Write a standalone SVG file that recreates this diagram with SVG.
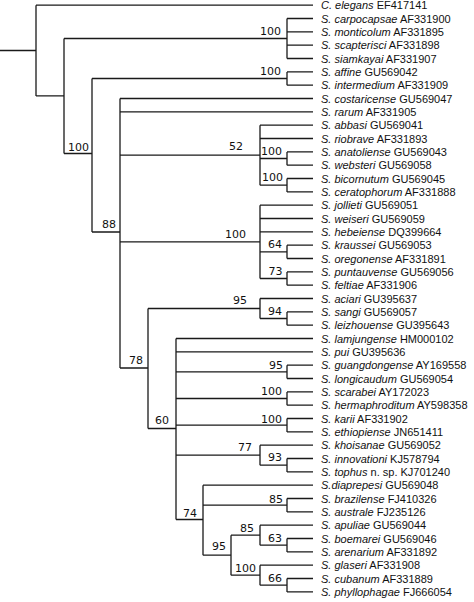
<svg xmlns="http://www.w3.org/2000/svg" width="474" height="602" viewBox="0 0 474 602">
<style>
.e{stroke:#1a1a1a;stroke-width:1.3;fill:none}
.t{font-family:"Liberation Sans",Arial,sans-serif;font-size:11px;fill:#111}
.i{font-style:italic}
.b{font-family:"DejaVu Sans",Verdana,sans-serif;font-size:11px;fill:#111;text-anchor:end}
</style>
<rect width="474" height="602" fill="#fff"/>
<g id="connectors" class="e">
<path d="M0,50.5H36M36,5.2V95.9M36,5.2H313M36,95.9H64"/>
<path d="M64,38.5V153.5M64,38.5H287M64,153.5H92"/>
<path d="M287,18.5V58.5M287,18.5H313M287,31.9H313M287,45.2H313M287,58.5H313"/>
<path d="M92,78.5V232M92,78.5H287M92,232H120"/>
<path d="M287,71.9V85.2M287,71.9H313M287,85.2H313"/>
<path d="M120,98.5V368M120,98.5H313M120,111.9H313M120,155.2H260M120,241.9H260M120,368H148"/>
<path d="M260,125.2V185.2M260,125.2H313M260,138.5H313M260,158.5H287M260,185.2H287"/>
<path d="M287,151.9V165.2M287,151.9H313M287,165.2H313"/>
<path d="M287,178.5V191.9M287,178.5H313M287,191.9H313"/>
<path d="M260,205.2V278.5M260,205.2H313M260,218.5H313M260,231.9H313M260,251.9H287M260,278.5H287"/>
<path d="M287,245.2V258.5M287,245.2H313M287,258.5H313"/>
<path d="M287,271.9V285.2M287,271.9H313M287,285.2H313"/>
<path d="M148,308.5V428.5M148,308.5H260M148,428.5H176"/>
<path d="M260,298.5V318.5M260,298.5H313M260,318.5H287"/>
<path d="M287,311.9V325.2M287,311.9H313M287,325.2H313"/>
<path d="M176,338.5V519.5M176,338.5H313M176,351.9H313M176,371.9H287M176,398.5H287M176,425.2H287M176,455.2H260M176,519.5H203"/>
<path d="M287,365.2V378.5M287,365.2H313M287,378.5H313"/>
<path d="M287,391.9V405.2M287,391.9H313M287,405.2H313"/>
<path d="M287,418.5V431.9M287,418.5H313M287,431.9H313"/>
<path d="M260,445.2V465.2M260,445.2H313M260,465.2H287"/>
<path d="M287,458.5V471.9M287,458.5H313M287,471.9H313"/>
<path d="M203,485.2V555.2M203,485.2H313M203,505.2H287M203,555.2H231"/>
<path d="M287,498.5V511.9M287,498.5H313M287,511.9H313"/>
<path d="M231,535.2V575.2M231,535.2H260M231,575.2H260"/>
<path d="M260,525.2V545.2M260,525.2H313M260,545.2H287"/>
<path d="M287,538.5V551.9M287,538.5H313M287,551.9H313"/>
<path d="M260,565.2V585.2M260,565.2H313M260,585.2H287"/>
<path d="M287,578.5V591.9M287,578.5H313M287,591.9H313"/>
</g>
<g id="support">
<g id="n-carpo"><text class="b" x="281" y="35">100</text></g>
<g id="n-affine"><text class="b" x="281" y="75">100</text></g>
<g id="n-B"><text class="b" x="89" y="150.5">100</text></g>
<g id="n-D"><text class="b" x="243" y="150">52</text></g>
<g id="n-anatol"><text class="b" x="282" y="155">100</text></g>
<g id="n-bicorn"><text class="b" x="283" y="181">100</text></g>
<g id="n-C"><text class="b" x="116" y="227.5">88</text></g>
<g id="n-E"><text class="b" x="246" y="237.5">100</text></g>
<g id="n-kraus"><text class="b" x="282" y="247.5">64</text></g>
<g id="n-puntau"><text class="b" x="282.5" y="275">73</text></g>
<g id="n-F"><text class="b" x="143" y="363.5">78</text></g>
<g id="n-G"><text class="b" x="247" y="304">95</text></g>
<g id="n-sangi"><text class="b" x="282" y="315">94</text></g>
<g id="n-H"><text class="b" x="169" y="423.5">60</text></g>
<g id="n-guang"><text class="b" x="283" y="368.5">95</text></g>
<g id="n-scarab"><text class="b" x="282" y="395">100</text></g>
<g id="n-karii"><text class="b" x="282" y="422.5">100</text></g>
<g id="n-khois"><text class="b" x="252" y="450.5">77</text></g>
<g id="n-innov"><text class="b" x="282" y="461">93</text></g>
<g id="n-I"><text class="b" x="197" y="516.5">74</text></g>
<g id="n-braz"><text class="b" x="283" y="502.5">85</text></g>
<g id="n-J"><text class="b" x="226" y="550">95</text></g>
<g id="n-K"><text class="b" x="254" y="531.5">85</text></g>
<g id="n-boem"><text class="b" x="282" y="541.5">63</text></g>
<g id="n-L"><text class="b" x="256" y="571.5">100</text></g>
<g id="n-cuban"><text class="b" x="282" y="581.5">66</text></g>
</g>
<g id="leaves" class="t">
<g id="l1"><text x="321" y="9.2"><tspan class="i">C. elegans</tspan> EF417141</text></g>
<g id="l2"><text x="321" y="22.5"><tspan class="i">S. carpocapsae</tspan> AF331900</text></g>
<g id="l3"><text x="321" y="35.9"><tspan class="i">S. monticolum</tspan> AF331895</text></g>
<g id="l4"><text x="321" y="49.2"><tspan class="i">S. scapterisci</tspan> AF331898</text></g>
<g id="l5"><text x="321" y="62.5"><tspan class="i">S. siamkayai</tspan> AF331907</text></g>
<g id="l6"><text x="321" y="75.9"><tspan class="i">S. affine</tspan> GU569042</text></g>
<g id="l7"><text x="321" y="89.2"><tspan class="i">S. intermedium</tspan> AF331909</text></g>
<g id="l8"><text x="321" y="102.5"><tspan class="i">S. costaricense</tspan> GU569047</text></g>
<g id="l9"><text x="321" y="115.9"><tspan class="i">S. rarum</tspan> AF331905</text></g>
<g id="l10"><text x="321" y="129.2"><tspan class="i">S. abbasi</tspan> GU569041</text></g>
<g id="l11"><text x="321" y="142.5"><tspan class="i">S. riobrave</tspan> AF331893</text></g>
<g id="l12"><text x="321" y="155.9"><tspan class="i">S. anatoliense</tspan> GU569043</text></g>
<g id="l13"><text x="321" y="169.2"><tspan class="i">S. websteri</tspan> GU569058</text></g>
<g id="l14"><text x="321" y="182.5"><tspan class="i">S. bicornutum</tspan> GU569045</text></g>
<g id="l15"><text x="321" y="195.9"><tspan class="i">S. ceratophorum</tspan> AF331888</text></g>
<g id="l16"><text x="321" y="209.2"><tspan class="i">S. jollieti</tspan> GU569051</text></g>
<g id="l17"><text x="321" y="222.5"><tspan class="i">S. weiseri</tspan> GU569059</text></g>
<g id="l18"><text x="321" y="235.9"><tspan class="i">S. hebeiense</tspan> DQ399664</text></g>
<g id="l19"><text x="321" y="249.2"><tspan class="i">S. kraussei</tspan> GU569053</text></g>
<g id="l20"><text x="321" y="262.5"><tspan class="i">S. oregonense</tspan> AF331891</text></g>
<g id="l21"><text x="321" y="275.9"><tspan class="i">S. puntauvense</tspan> GU569056</text></g>
<g id="l22"><text x="321" y="289.2"><tspan class="i">S. feltiae</tspan> AF331906</text></g>
<g id="l23"><text x="321" y="302.5"><tspan class="i">S. aciari</tspan> GU395637</text></g>
<g id="l24"><text x="321" y="315.9"><tspan class="i">S. sangi</tspan> GU569057</text></g>
<g id="l25"><text x="321" y="329.2"><tspan class="i">S. leizhouense</tspan> GU395643</text></g>
<g id="l26"><text x="321" y="342.5"><tspan class="i">S. lamjungense</tspan> HM000102</text></g>
<g id="l27"><text x="321" y="355.9"><tspan class="i">S. pui</tspan> GU395636</text></g>
<g id="l28"><text x="321" y="369.2"><tspan class="i">S. guangdongense</tspan> AY169558</text></g>
<g id="l29"><text x="321" y="382.5"><tspan class="i">S. longicaudum</tspan> GU569054</text></g>
<g id="l30"><text x="321" y="395.9"><tspan class="i">S. scarabei</tspan> AY172023</text></g>
<g id="l31"><text x="321" y="409.2"><tspan class="i">S. hermaphroditum</tspan> AY598358</text></g>
<g id="l32"><text x="321" y="422.5"><tspan class="i">S. karii</tspan> AF331902</text></g>
<g id="l33"><text x="321" y="435.9"><tspan class="i">S. ethiopiense</tspan> JN651411</text></g>
<g id="l34"><text x="321" y="449.2"><tspan class="i">S. khoisanae</tspan> GU569052</text></g>
<g id="l35"><text x="321" y="462.5"><tspan class="i">S. innovationi</tspan> KJ578794</text></g>
<g id="l36"><text x="321" y="475.9"><tspan class="i">S. tophus</tspan> n. sp. KJ701240</text></g>
<g id="l37"><text x="321" y="489.2"><tspan class="i">S.diaprepesi</tspan> GU569048</text></g>
<g id="l38"><text x="321" y="502.5"><tspan class="i">S. brazilense</tspan> FJ410326</text></g>
<g id="l39"><text x="321" y="515.9"><tspan class="i">S. australe</tspan> FJ235126</text></g>
<g id="l40"><text x="321" y="529.2"><tspan class="i">S. apuliae</tspan> GU569044</text></g>
<g id="l41"><text x="321" y="542.5"><tspan class="i">S. boemarei</tspan> GU569046</text></g>
<g id="l42"><text x="321" y="555.9"><tspan class="i">S. arenarium</tspan> AF331892</text></g>
<g id="l43"><text x="321" y="569.2"><tspan class="i">S. glaseri</tspan> AF331908</text></g>
<g id="l44"><text x="321" y="582.5"><tspan class="i">S. cubanum</tspan> AF331889</text></g>
<g id="l45"><text x="321" y="595.9"><tspan class="i">S. phyllophagae</tspan> FJ666054</text></g>
</g>
</svg>
